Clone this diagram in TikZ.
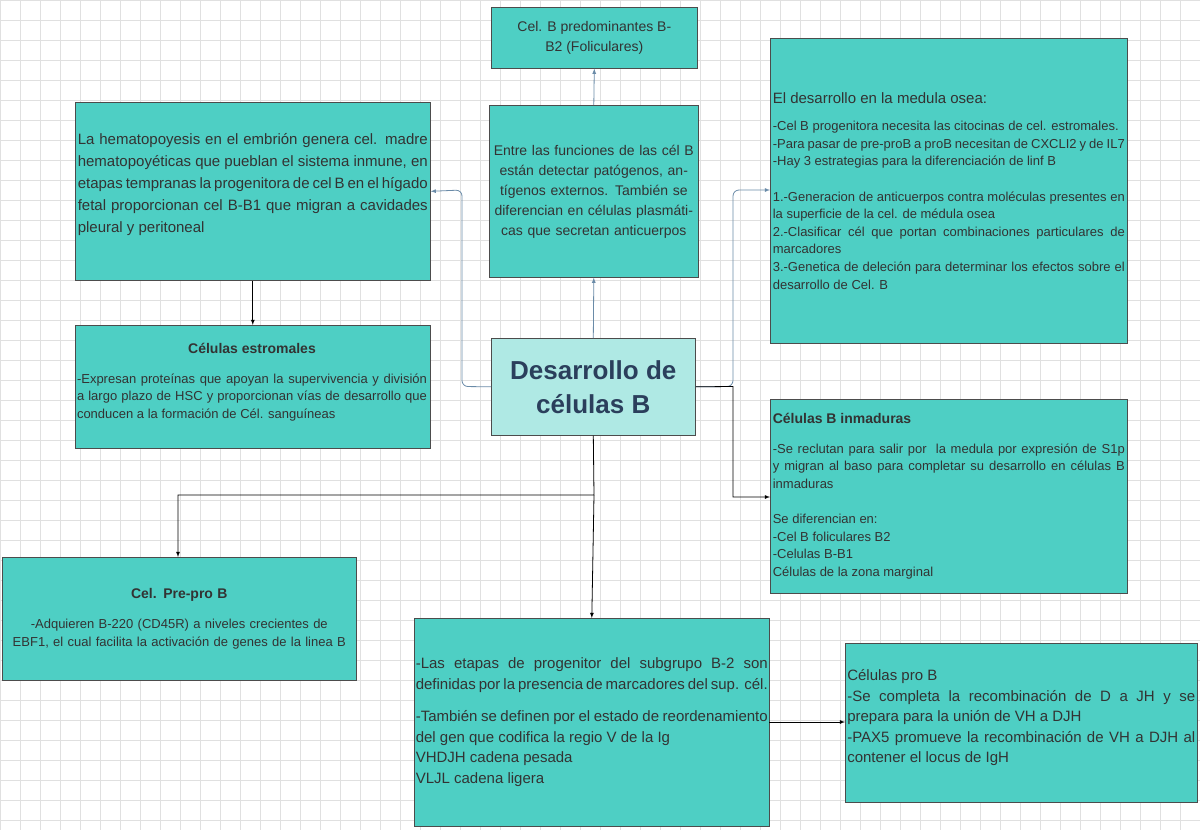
\documentclass[tikz,border=0pt]{standalone}
\usepackage{fontspec}
\setmainfont{Liberation Sans}
\begin{document}
\begin{tikzpicture}[x=1pt,y=-1pt,
  box/.style={draw=black!70,fill=teal0,line width=0.6pt,anchor=north west,inner sep=2pt,text=black!80},
  blu/.style={draw=linkc,line width=0.8pt,-latex,rounded corners=6pt},
  blk/.style={draw=black,line width=0.8pt,-latex}]
\definecolor{teal0}{HTML}{4ECFC4}
\definecolor{linkc}{HTML}{6A8BA8}
\definecolor{navy}{HTML}{2B3F5C}
\useasboundingbox (0,0) rectangle (1200,830);
\fill[white] (0,0) rectangle (1200,830);
\draw[black!12,line width=0.4pt,step=20pt] (0,0) grid (1200,830);
\newcommand\bx[6]{\node[box,minimum width=#3-#1,minimum height=#4-#2,text width=#3-#1-6,#5] (#6) at (#1,#2) {};}
% boxes
\bx{491}{7}{697}{68}{}{top}
\node[align=center,font=\fontsize{14}{20}\selectfont,text=black!80] at (top.center) {Cel. B predominantes B-\\B2 (Foliculares)};
\bx{489}{105}{698}{277}{}{fun}
\node[align=center,text width=200,font=\fontsize{14}{20}\selectfont,text=black!80] at (fun.center) {Entre las funciones de las cél B están detectar patógenos, antígenos externos. También se diferencian en células plasmáticas que secretan anticuerpos};
\bx{75}{102}{430}{280}{}{hem}
\node[align=justify,text width=350,font=\fontsize{15}{22}\selectfont,text=black!80] at (hem.center) {La hematopoyesis en el embrión genera cel. madre hematopoyéticas que pueblan el sistema inmune, en etapas tempranas la progenitora de cel B en el hígado fetal proporcionan cel B-B1 que migran a cavidades pleural y peritoneal\par\vspace*{14pt}};
\bx{75}{325}{430}{448}{}{est}
\node[align=justify,text width=350,font=\fontsize{13}{17.5}\selectfont,text=black!80,anchor=north] at (252,340) {\makebox[\linewidth]{\fontsize{14}{20}\selectfont\textbf{Células estromales}}\par\vspace{12pt}-Expresan proteínas que apoyan la supervivencia y división a largo plazo de HSC y proporcionan vías de desarrollo que conducen a la formación de Cél. sanguíneas};
\bx{491}{338}{695}{435}{fill=teal0!45!white}{cen}
\node[align=center,font=\fontsize{26}{34}\selectfont\bfseries,text=navy] at (cen.center) {Desarrollo de\\células B};
\bx{770}{38}{1127}{343}{}{med}
\node[align=justify,text width=352,font=\fontsize{13}{17.6}\selectfont,text=black!80] at (med.center) {{\fontsize{15}{20}\selectfont El desarrollo en la medula osea:}\par\vspace{10pt}
-Cel B progenitora necesita las citocinas de cel. estromales.\par
-Para pasar de pre-proB a proB necesitan de CXCLI2 y de IL7\par
-Hay 3 estrategias para la diferenciación de linf B\par\vspace{17.6pt}
1.-Generacion de anticuerpos contra moléculas presentes en la superficie de la cel. de médula osea\par
2.-Clasificar cél que portan combinaciones particulares de marcadores\par
3.-Genetica de deleción para determinar los efectos sobre el desarrollo de Cel. B};
\bx{770}{399}{1127}{593}{}{inm}
\node[align=justify,text width=352,font=\fontsize{13}{17.6}\selectfont,text=black!80] at (inm.center) {{\fontsize{14}{20}\selectfont\textbf{Células B inmaduras}}\par\vspace{12pt}
-Se reclutan para salir por\ \ la medula por expresión de S1p y migran al baso para completar su desarrollo en células B inmaduras\par\vspace{17.6pt}
\raggedright Se diferencian en:\par -Cel B foliculares B2\par -Celulas B-B1\par Células de la zona marginal};
\bx{2}{557}{356}{680}{}{pre}
\node[align=center,text width=345,font=\fontsize{13}{17.6}\selectfont,text=black!80] at (pre.center) {{\fontsize{14}{20}\selectfont\textbf{Cel. Pre-pro B}}\par\vspace{12pt}
-Adquieren B-220 (CD45R) a niveles crecientes de EBF1, el cual facilita la activación de genes de la linea B};
\bx{414}{618}{769}{826}{}{eta}
\node[align=justify,text width=352,font=\fontsize{15}{20.5}\selectfont,text=black!80] at (eta.center) {-Las etapas de progenitor del subgrupo B-2 son definidas por la presencia de marcadores del sup. cél.\par\vspace{12pt}
-También se definen por el estado de reordenamiento del gen que codifica la regio V de la Ig\par\raggedright VHDJH cadena pesada\par VLJL cadena ligera};
\bx{845}{643}{1197}{802}{}{pro}
\node[align=justify,text width=348,font=\fontsize{15}{20.5}\selectfont,text=black!80] at (pro.center) {Células pro B\par -Se completa la recombinación de D a JH y se prepara para la unión de VH a DJH\par -PAX5 promueve la recombinación de VH a DJH al contener el locus de IgH\par\vspace*{10pt}};
% connectors
\draw[blu] (cen.north) -- (fun.south);
\draw[blu] (fun.north) -- (top.south);
\draw[blu] (cen.west) -- (462,386.5) -- (462,190) -- (hem.east);
\draw[blu] (cen.east) -- (733,386.5) -- (733,190) -- (770,190);
\draw[blk] (cen.east) -- (733,386.5) -- (733,497) -- (770,497);
\draw[blk] (cen.south) -- (594,495) -- (178,495) -- (178,557);
\draw[blk] (594,495) -- (eta.north);
\draw[blk] (hem.south) -- (est.north);
\draw[blk] (769,722) -- (845,722);
\end{tikzpicture}
\end{document}
